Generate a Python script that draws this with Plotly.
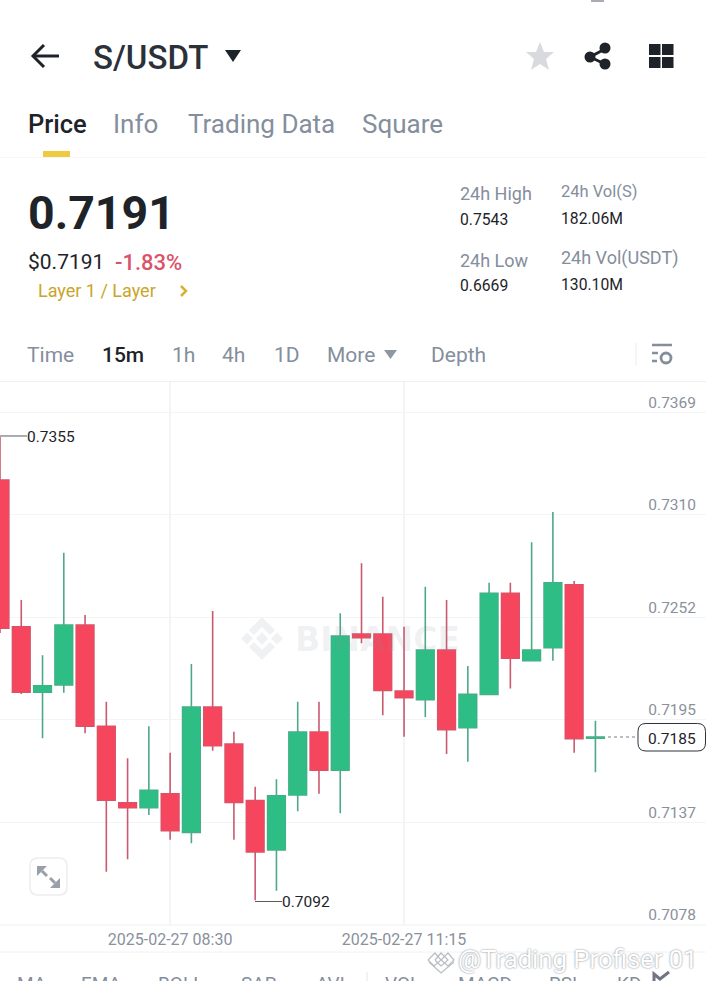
import plotly.graph_objects as go
import pandas as pd

# ---------- chart data ----------
start_time = "2025-02-27 06:30"
opens = [.73306,.72473,.72101,.72142,.72483,.71908,.71474,.71446,.71525,.71306,.72017,.71807,.71486,.71206,.71518,.71875,.71658,.72432,.72432,.72108,.72059,.72341,.71900,.72089,.72663,.72280,.72354,.72711,.71840]
highs = [.73550,.72625,.72311,.72893,.72540,.72047,.71726,.71908,.71758,.72261,.72562,.71877,.71565,.71607,.72047,.72047,.72549,.72833,.72643,.72473,.72700,.72625,.72250,.72723,.72723,.72952,.73124,.72732,.71940]
lows = [.72437,.72091,.71840,.72098,.71868,.71082,.71153,.71404,.71264,.71244,.71769,.71264,.70920,.70975,.71425,.71525,.71414,.72379,.71970,.71849,.71961,.71751,.71707,.72089,.72123,.72280,.72280,.71758,.71647]
closes = [.72464,.72101,.72138,.72483,.71909,.71488,.71446,.71545,.71315,.72017,.71798,.71476,.71194,.71514,.71875,.71658,.72420,.72411,.72112,.72070,.72341,.71889,.72089,.72663,.72294,.72341,.72723,.71837,.71847]
price_tick_values = [.7078,.71362,.71944,.72526,.73108,.7369]
price_tick_labels = ["0.7078","0.7137","0.7195","0.7252","0.7310","0.7369"]
time_tick_values = ["2025-02-27 08:30","2025-02-27 11:15"]
time_tick_labels = ["2025-02-27 08:30","2025-02-27 11:15"]

times = pd.date_range(start_time, periods=len(opens), freq="15min")

W, H = 706, 981
DARK, GREY = "#1e2329", "#848e9c"
RED, GREEN = "#f6465d", "#2ebd85"
LINE = "#f3f4f5"
FONT = "Roboto"

def px(x): return x / W
def py(y): return 1 - y / H

annotations, shapes = [], []

def text(x, y, s, size, color=GREY, anchor="left", weight=400, family=FONT, **font):
    annotations.append(dict(x=px(x - 1), y=py(y), xref="paper", yref="paper", text=s, showarrow=False,
                            xanchor=anchor, yanchor="middle", borderpad=0,
                            font=dict(family=family, size=size, color=color, weight=weight, **font)))

def path(points, color=None, fill=None, width=0, close=False, layer="above", dash=None):
    d = "M " + " L ".join(f"{px(a):.5f},{py(b):.5f}" for a, b in points) + (" Z" if close else "")
    shapes.append(dict(type="path", path=d, xref="paper", yref="paper", layer=layer,
                       fillcolor=fill or "rgba(0,0,0,0)",
                       line=dict(color=color or "rgba(0,0,0,0)", width=width, dash=dash or "solid")))

def circle(x, y, r, fill=None, color=None, width=0):
    shapes.append(dict(type="circle", xref="paper", yref="paper", x0=px(x-r), x1=px(x+r), y0=py(y+r), y1=py(y-r),
                       fillcolor=fill or "rgba(0,0,0,0)", line=dict(color=color or "rgba(0,0,0,0)", width=width)))

def rounded(x0, y0, x1, y1, r, color, width=1, fill="white"):
    d = (f"M {px(x0+r):.5f},{py(y0):.5f} L {px(x1-r):.5f},{py(y0):.5f} Q {px(x1):.5f},{py(y0):.5f} {px(x1):.5f},{py(y0+r):.5f} "
         f"L {px(x1):.5f},{py(y1-r):.5f} Q {px(x1):.5f},{py(y1):.5f} {px(x1-r):.5f},{py(y1):.5f} "
         f"L {px(x0+r):.5f},{py(y1):.5f} Q {px(x0):.5f},{py(y1):.5f} {px(x0):.5f},{py(y1-r):.5f} "
         f"L {px(x0):.5f},{py(y0+r):.5f} Q {px(x0):.5f},{py(y0):.5f} {px(x0+r):.5f},{py(y0):.5f} Z")
    shapes.append(dict(type="path", path=d, xref="paper", yref="paper", fillcolor=fill, line=dict(color=color, width=width)))

# ---------- header ----------
path([(33, 56), (59, 56)], DARK, width=3)
path([(44, 45), (33, 56), (44, 67)], DARK, width=3)
text(93, 57, "S/USDT", 33, "#2b3139", weight=500)
path([(225, 50), (241, 50), (233, 62)], fill=DARK, close=True)
path([(540,42),(544,52),(554,52),(546,59),(549,70),(540,64),(531,70),(534,59),(526,52),(536,52)], fill="#d8dade", close=True)
path([(605, 49), (590, 57), (605, 64)], DARK, width=3)
circle(605, 48, 5.5, fill=DARK); circle(590, 57, 5.5, fill=DARK); circle(605, 64, 5.5, fill=DARK)
for a, b in [(649, 44), (662, 44), (649, 57), (662, 57)]:
    path([(a, b), (a+11.5, b), (a+11.5, b+11), (a, b+11)], fill="#1e2329", close=True)

text(28, 124, "Price", 25.5, DARK, weight=500)
text(113, 124, "Info", 26)
text(188, 124, "Trading Data", 26)
text(362, 124, "Square", 26)
path([(43, 151), (70, 151), (70, 157), (43, 157)], fill="#f0ca3e", close=True)
path([(0, 157.5), (706, 157.5)], "#f6f6f7", width=1)

text(28, 213, "0.7191", 46.5, DARK, weight=700)
text(28, 262, "$0.7191", 21, DARK)
text(115, 262, "-1.83%", 22, "#d9536a", weight=500)
text(38, 291, "Layer 1 / Layer", 18, "#c9a52c")
path([(181, 286), (186, 291), (181, 296)], "#d8b032", width=2.5)

text(460, 194, "24h High", 18)
text(460, 219, "0.7543", 15.7, DARK)
text(561, 191, "24h Vol(S)", 16.5)
text(561, 218, "182.06M", 15.7, DARK)
text(460, 260, "24h Low", 18)
text(460, 285, "0.6669", 15.7, DARK)
text(561, 258, "24h Vol(USDT)", 18)
text(561, 284, "130.10M", 15.7, DARK)

text(27, 355, "Time", 21)
text(102, 355, "15m", 21, DARK, weight=500)
text(172, 355, "1h", 21)
text(222, 355, "4h", 21)
text(274, 355, "1D", 21)
text(327, 355, "More", 21)
path([(384, 350), (397, 350), (390.5, 359)], fill="#8f97a3", close=True)
text(431, 355, "Depth", 21)
path([(636, 343), (636, 366)], "#eceded", width=1)
path([(652, 345), (672, 345)], "#848e9c", width=2.5)
path([(652, 353), (658, 353)], "#848e9c", width=2.5)
path([(652, 361), (657, 361)], "#848e9c", width=2.5)
circle(666, 358, 5, color="#848e9c", width=2.8)

# ---------- chart furniture ----------
path([(0, 381.5), (706, 381.5)], "#eff0f1", width=1)
path([(0, 925), (706, 925)], "#eff0f1", width=1)
path([(0, 952), (706, 952)], "#f1f2f3", width=1)

# watermark
LOGO = "#f0f1f2"
path([(262, 632), (268, 638.5), (262, 645), (256, 638.5)], fill=LOGO, close=True, layer="below")
path([(247, 632.5), (253, 638.5), (247, 644.5), (241, 638.5)], fill=LOGO, close=True, layer="below")
path([(277, 632.5), (283, 638.5), (277, 644.5), (271, 638.5)], fill=LOGO, close=True, layer="below")
path([(262, 617), (275, 630), (270, 635), (262, 627), (254, 635), (249, 630)], fill=LOGO, close=True, layer="below")
path([(262, 660), (275, 647), (270, 642), (262, 650), (254, 642), (249, 647)], fill=LOGO, close=True, layer="below")
text(295, 639, "BINANCE", 33, "rgba(140,148,160,0.13)", weight=700, family="DejaVu Sans")

# high / low labels
path([(0, 436), (27, 436)], "#555b63", width=1)
text(27, 436.5, "0.7355", 15.5, DARK)
path([(255, 901.5), (282, 901.5)], "#555b63", width=1)
text(282, 902, "0.7092", 15.5, DARK)

# last price
path([(608, 737), (638, 737)], "#777d86", width=1, dash="3px,3px")
rounded(638, 723.5, 705.5, 751, 8, "#2b3139", 1)
text(648, 739, "0.7185", 15.5, DARK)

# expand button
rounded(30, 858, 67, 895, 8, "#eceded", 1.5)
path([(37, 866), (47, 866), (37, 876)], fill="#9aa0a8", close=True)
path([(42, 871), (47, 876)], "#9aa0a8", width=3)
path([(60, 888), (50, 888), (60, 878)], fill="#9aa0a8", close=True)
path([(55, 883), (50, 878)], "#9aa0a8", width=3)

# bottom indicator row
for x, s in [(17, "MA"), (81, "EMA"), (158, "BOLL"), (241, "SAR"), (316, "AVL"), (385, "VOL"), (458, "MACD"), (549, "RSI"), (617, "KD")]:
    text(x, 983, s, 19)
path([(367, 972), (367, 981)], "#e4e5e7", width=1)
path([(654, 981), (654, 974), (660, 979), (669, 972)], "#6f7681", width=3)

# overlaid credit
text(458, 959, "@Trading Profiser 01", 25.7, "white", shadow="0 0 2px #6f7681")
for c in [[(428, 960), (435, 953), (441, 960), (434, 966), (428, 960)],
          [(435, 960), (441, 953), (448, 960), (441, 966), (435, 960)],
          [(441, 960), (448, 953), (454, 960), (448, 966), (441, 960)],
          [(429, 962), (441, 973), (454, 962)]]:
    path(c, "#b9bdc3", width=1.2)

path([(591, 0), (604, 0), (604, 2), (591, 2)], fill="#a8adb3", close=True)

# ---------- figure ----------
wick = dict(increasing=dict(line=dict(color="#4fa887", width=1.6), fillcolor=GREEN),
            decreasing=dict(line=dict(color="#c95a6e", width=1.6), fillcolor=RED))
body = dict(increasing=dict(line=dict(color=GREEN, width=0), fillcolor=GREEN),
            decreasing=dict(line=dict(color=RED, width=0), fillcolor=RED))

fig = go.Figure()
fig.add_trace(go.Candlestick(x=times, open=opens, high=highs, low=lows, close=closes, whiskerwidth=0, showlegend=False, **wick))
fig.add_trace(go.Candlestick(x=times, open=opens, high=highs, low=lows, close=closes, whiskerwidth=0, showlegend=False, **body))

fig.update_layout(
    width=W, height=H, margin=dict(l=0, r=0, t=0, b=0), autosize=False,
    paper_bgcolor="white", plot_bgcolor="white", showlegend=False, boxgap=0.17, boxgroupgap=0,
    annotations=annotations, shapes=shapes,
    xaxis=dict(type="date", range=["2025-02-27 06:30", "2025-02-27 14:48"], domain=[0, 1],
               rangeslider=dict(visible=False), showgrid=True, gridcolor=LINE, gridwidth=1.5, zeroline=False,
               tickmode="array", tickvals=time_tick_values, ticktext=time_tick_labels, ticks="", ticklen=0,
               ticklabelstandoff=3,
               tickfont=dict(family=FONT, size=16, color="#8a919c"), automargin=False, showline=False),
    yaxis=dict(range=[.7078, .73865], domain=[1 - 925 / H, 1 - 381.5 / H], side="right",
               ticklabelposition="inside", ticklabelstandoff=7, ticklabelshift=-10,
               showgrid=True, gridcolor=LINE, gridwidth=1, zeroline=False,
               tickmode="array", tickvals=price_tick_values, ticktext=price_tick_labels, ticks="",
               tickfont=dict(family=FONT, size=15.5, color="#8a919c"), automargin=False, showline=False),
)

fig.write_html("out.html", config={"displayModeBar": False},
               post_script="document.body.style.margin='0';document.body.style.overflow='hidden';")
